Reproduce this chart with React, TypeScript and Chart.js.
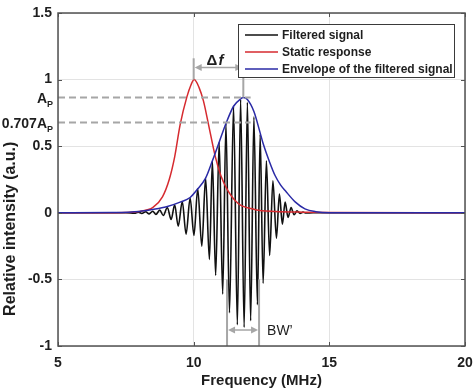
import React, { useEffect, useRef } from 'react';
import { Chart, registerables } from 'chart.js';

Chart.register(...registerables);

// ---- Data ----
const xTicks = [5, 10, 15, 20];
const yTicks = [-1, -0.5, 0, 0.5, 1, 1.5];

const seriesLabels = ['Filtered signal', 'Static response', 'Envelope of the filtered signal'];
const xTitle = 'Frequency (MHz)';
const yTitle = 'Relative intensity (a.u.)';

// Filtered signal: extrema (peaks / troughs)
const signalFreq = [
  5, 7.5, 7.82, 7.96, 8.09, 8.23, 8.36, 8.49, 8.61, 8.75, 8.88, 9.03, 9.17, 9.3, 9.43, 9.58,
  9.72, 9.87, 10.01, 10.15, 10.3, 10.44, 10.58, 10.69, 10.81, 10.94, 11.07, 11.19, 11.32,
  11.47, 11.61, 11.73, 11.86, 11.98, 12.1, 12.22, 12.35, 12.45, 12.56, 12.68, 12.8, 12.92,
  13.05, 13.16, 13.27, 13.37, 13.48, 13.59, 13.7, 13.81, 13.92, 14.03, 14.14, 14.4, 20,
];
const signalAmp = [
  0, 0, -0.003, 0.005, -0.005, 0.008, -0.008, 0.012, -0.012, 0.02, -0.02, 0.04, -0.05, 0.06,
  -0.1, 0.085, -0.16, 0.11, -0.17, 0.18, -0.25, 0.26, -0.35, 0.39, -0.47, 0.53, -0.61, 0.67,
  -0.75, 0.8, -0.84, 0.85, -0.86, 0.83, -0.81, 0.72, -0.69, 0.59, -0.53, 0.39, -0.32, 0.24,
  -0.19, 0.14, -0.085, 0.08, -0.035, 0.04, -0.015, 0.015, -0.005, 0.005, -0.002, 0, 0,
];

// Static response
const staticFreq = [5, 7.5, 8.0, 8.5, 8.85, 9.1, 9.3, 9.5, 9.75, 9.9, 10.02, 10.2, 10.36, 10.54, 10.8, 11.0, 11.25, 11.64, 12.15, 12.5, 13.0, 14.0, 15.0, 20];
const staticAmp = [0, 0.003, 0.01, 0.04, 0.12, 0.25, 0.42, 0.66, 0.87, 0.96, 1.0, 0.94, 0.84, 0.67, 0.42, 0.28, 0.17, 0.07, 0.03, 0.015, 0.01, 0.005, 0.002, 0];

// Envelope of the filtered signal
const envFreq = [5, 7.0, 8.0, 8.5, 9.0, 9.5, 9.87, 10.15, 10.44, 10.69, 10.94, 11.19, 11.47, 11.73, 11.83, 11.98, 12.22, 12.45, 12.56, 12.8, 13.0, 13.2, 13.38, 13.75, 14.1, 14.5, 15.0, 20];
const envAmp = [0, 0.002, 0.01, 0.025, 0.045, 0.08, 0.115, 0.18, 0.26, 0.39, 0.53, 0.67, 0.8, 0.855, 0.865, 0.85, 0.76, 0.6, 0.52, 0.38, 0.28, 0.21, 0.165, 0.08, 0.03, 0.008, 0, 0];

// Annotation values
const apLevel = 0.865;
const ap707Level = 0.677;
const dashEndFreq = 12.1;
const staticPeakFreq = 10.0;
const staticPeakLevel = 1.0;
const envPeakFreq = 11.83;
const deltaTopLevel = 1.16;
const deltaArrowLevel = 1.09;
const bwLow = 11.23;
const bwHigh = 12.41;
const bwTopLevel = -0.5;
const bwArrowLevel = -0.88;

const seriesColors = ['#111111', '#d62a2f', '#2a2aa6'];
const FONT = '"Liberation Sans", Arial, sans-serif';
const ANNOT = '#a6a6a6';
const TEXT = '#1e1e1e';

function arrowHead(ctx: CanvasRenderingContext2D, x: number, y: number, dir: number) {
  ctx.beginPath();
  ctx.moveTo(x, y);
  ctx.lineTo(x + dir * 7, y - 3.5);
  ctx.lineTo(x + dir * 7, y + 3.5);
  ctx.closePath();
  ctx.fill();
}

const annotPlugin = {
  id: 'annotations',
  afterDatasetsDraw(chart: any) {
    const { ctx, chartArea: ca } = chart;
    const x = chart.scales.x;
    const y = chart.scales.y;
    ctx.save();
    ctx.strokeStyle = ANNOT;
    ctx.fillStyle = ANNOT;
    ctx.lineWidth = 2;
    ctx.setLineDash([7, 4]);
    [apLevel, ap707Level].forEach((v) => {
      const py = y.getPixelForValue(v);
      ctx.beginPath();
      ctx.moveTo(ca.left, py);
      ctx.lineTo(x.getPixelForValue(dashEndFreq), py);
      ctx.stroke();
    });
    ctx.setLineDash([]);
    const vline = (f: number, a: number, b: number) => {
      const px = x.getPixelForValue(f);
      ctx.beginPath();
      ctx.moveTo(px, y.getPixelForValue(a));
      ctx.lineTo(px, y.getPixelForValue(b));
      ctx.stroke();
    };
    const dbl = (f1: number, f2: number, v: number) => {
      const p1 = x.getPixelForValue(f1) + 1;
      const p2 = x.getPixelForValue(f2) - 1;
      const py = y.getPixelForValue(v);
      ctx.lineWidth = 1.5;
      ctx.beginPath();
      ctx.moveTo(p1 + 5, py);
      ctx.lineTo(p2 - 5, py);
      ctx.stroke();
      arrowHead(ctx, p1, py, 1);
      arrowHead(ctx, p2, py, -1);
      ctx.lineWidth = 2;
    };
    vline(staticPeakFreq, deltaTopLevel, staticPeakLevel);
    vline(envPeakFreq, deltaTopLevel, apLevel);
    dbl(staticPeakFreq, envPeakFreq, deltaArrowLevel);
    vline(bwLow, bwTopLevel, -1);
    vline(bwHigh, bwTopLevel, -1);
    dbl(bwLow, bwHigh, bwArrowLevel);

    // texts
    ctx.fillStyle = TEXT;
    ctx.textBaseline = 'alphabetic';
    ctx.textAlign = 'left';
    const mid = (x.getPixelForValue(staticPeakFreq) + x.getPixelForValue(envPeakFreq)) / 2;
    const dy = y.getPixelForValue(deltaArrowLevel) - 3;
    ctx.font = `bold 15px ${FONT}`;
    const wD = ctx.measureText('Δ').width;
    ctx.font = `italic bold 15px ${FONT}`;
    const wF = ctx.measureText('f').width;
    const sx = mid - 4 - (wD + wF) / 2;
    ctx.font = `bold 15px ${FONT}`;
    ctx.fillText('Δ', sx, dy);
    ctx.font = `italic bold 15px ${FONT}`;
    ctx.fillText('f', sx + wD + 1, dy);

    ctx.font = `14px ${FONT}`;
    ctx.textBaseline = 'middle';
    ctx.fillText('BW’', x.getPixelForValue(bwHigh) + 8, y.getPixelForValue(bwArrowLevel) + 1);
    ctx.restore();
  },
  afterDraw(chart: any) {
    const { ctx, chartArea: ca } = chart;
    const x = chart.scales.x;
    const y = chart.scales.y;
    ctx.save();
    // frame
    ctx.strokeStyle = '#525252';
    ctx.lineWidth = 1.5;
    ctx.strokeRect(ca.left, ca.top, ca.right - ca.left, ca.bottom - ca.top);
    // inward ticks
    ctx.lineWidth = 1;
    xTicks.forEach((t) => {
      const px = Math.round(x.getPixelForValue(t)) + 0.5;
      ctx.beginPath();
      ctx.moveTo(px, ca.bottom);
      ctx.lineTo(px, ca.bottom - 4);
      ctx.moveTo(px, ca.top);
      ctx.lineTo(px, ca.top + 4);
      ctx.stroke();
    });
    yTicks.forEach((t) => {
      const py = Math.round(y.getPixelForValue(t)) + 0.5;
      ctx.beginPath();
      ctx.moveTo(ca.left, py);
      ctx.lineTo(ca.left + 4, py);
      ctx.moveTo(ca.right, py);
      ctx.lineTo(ca.right - 4, py);
      ctx.stroke();
    });

    // A_P labels on the y axis
    ctx.fillStyle = TEXT;
    ctx.textAlign = 'right';
    ctx.textBaseline = 'alphabetic';
    const drawSub = (main: string, v: number) => {
      const py = y.getPixelForValue(v);
      const right = ca.left - 5;
      ctx.font = `bold 9px ${FONT}`;
      const wp = ctx.measureText('P').width;
      ctx.fillText('P', right, py + 9);
      ctx.font = `bold 14px ${FONT}`;
      ctx.fillText(main, right - wp, py + 5);
    };
    drawSub('A', apLevel);
    drawSub('0.707A', ap707Level);

    // y axis title (placed lower, as in the reference)
    ctx.save();
    ctx.translate(11, y.getPixelForValue(-0.12));
    ctx.rotate(-Math.PI / 2);
    ctx.textAlign = 'center';
    ctx.textBaseline = 'middle';
    ctx.font = `bold 16px ${FONT}`;
    ctx.fillText(yTitle, 0, 0);
    ctx.restore();

    // legend box
    const bx = ca.left + 180;
    const by = ca.top + 11;
    const bw = 216;
    const bh = 53;
    ctx.fillStyle = '#ffffff';
    ctx.fillRect(bx, by, bw, bh);
    ctx.strokeStyle = '#3a3a3a';
    ctx.lineWidth = 1;
    ctx.strokeRect(bx + 0.5, by + 0.5, bw, bh);
    ctx.font = `bold 12px ${FONT}`;
    ctx.textAlign = 'left';
    ctx.textBaseline = 'middle';
    seriesLabels.forEach((lab, i) => {
      const ry = by + 11 + i * 17;
      ctx.strokeStyle = seriesColors[i];
      ctx.lineWidth = 1.5;
      ctx.beginPath();
      ctx.moveTo(bx + 7, ry);
      ctx.lineTo(bx + 40, ry);
      ctx.stroke();
      ctx.fillStyle = TEXT;
      ctx.fillText(lab, bx + 44, ry + 1);
    });
    ctx.restore();
  },
};

export default function App() {
  const ref = useRef<HTMLCanvasElement | null>(null);
  useEffect(() => {
    if (!ref.current) return;
    const toXY = (fs: number[], vs: number[]) => fs.map((f, i) => ({ x: f, y: vs[i] }));
    const chart = new Chart(ref.current, {
      type: 'line',
      data: {
        datasets: [
          {
            label: seriesLabels[0],
            data: toXY(signalFreq, signalAmp),
            borderColor: seriesColors[0],
            borderWidth: 1.6,
            pointRadius: 0,
            cubicInterpolationMode: 'monotone',
            order: 2,
          },
          {
            label: seriesLabels[1],
            data: toXY(staticFreq, staticAmp),
            borderColor: seriesColors[1],
            borderWidth: 1.5,
            pointRadius: 0,
            cubicInterpolationMode: 'monotone',
            order: 1,
          },
          {
            label: seriesLabels[2],
            data: toXY(envFreq, envAmp),
            borderColor: seriesColors[2],
            borderWidth: 1.5,
            pointRadius: 0,
            cubicInterpolationMode: 'monotone',
            order: 0,
          },
        ],
      },
      options: {
        animation: false,
        responsive: false,
        devicePixelRatio: 1,
        layout: { padding: { top: 13, right: 9, left: 0, bottom: 0 } },
        plugins: { legend: { display: false }, tooltip: { enabled: false } },
        scales: {
          x: {
            type: 'linear',
            min: 5,
            max: 20,
            afterBuildTicks: (s: any) => {
              s.ticks = xTicks.map((v) => ({ value: v }));
            },
            afterFit: (s: any) => {
              s.height = 44;
              s.paddingLeft = 0;
              s.paddingRight = 0;
            },
            grid: { color: '#e3e3e3', drawTicks: false },
            border: { display: false },
            ticks: {
              font: { family: FONT, size: 14, weight: 'bold' },
              color: TEXT,
              padding: 9,
              maxRotation: 0,
              autoSkip: false,
              callback: (v: any) => String(v),
            },
            title: {
              display: true,
              text: xTitle,
              font: { family: FONT, size: 15, weight: 'bold' },
              color: TEXT,
              padding: { top: 1, bottom: 0 },
            },
          },
          y: {
            type: 'linear',
            min: -1,
            max: 1.5,
            afterBuildTicks: (s: any) => {
              s.ticks = yTicks.map((v) => ({ value: v }));
            },
            afterFit: (s: any) => {
              s.width = 58;
              s.paddingTop = 0;
              s.paddingBottom = 0;
            },
            grid: { color: '#e3e3e3', drawTicks: false },
            border: { display: false },
            ticks: {
              font: { family: FONT, size: 14, weight: 'bold' },
              color: TEXT,
              padding: 6,
              callback: (v: any) => String(v),
            },
            title: { display: false },
          },
        },
      },
      plugins: [annotPlugin],
    } as any);
    return () => chart.destroy();
  }, []);
  return (
    <div style={{ position: 'fixed', left: 0, top: 0, width: 474, height: 390, background: '#fff' }}>
      <canvas ref={ref} width={474} height={390} style={{ width: 474, height: 390, display: 'block' }} />
    </div>
  );
}
